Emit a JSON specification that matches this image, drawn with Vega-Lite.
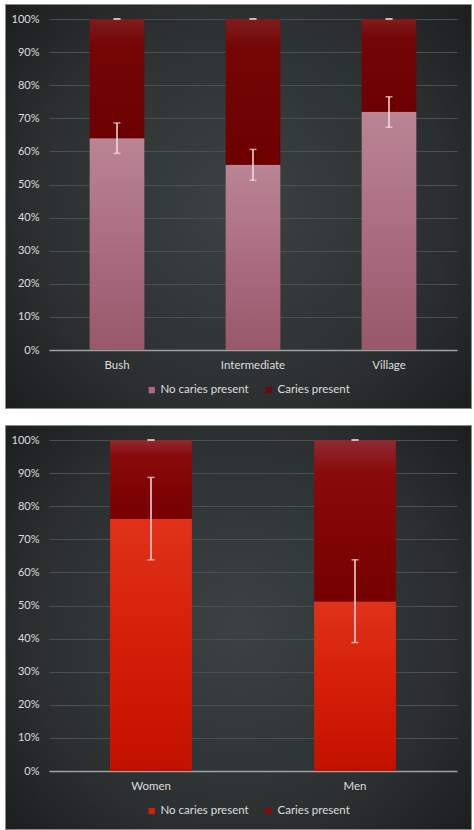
{
  "$schema": "https://vega.github.io/schema/vega-lite/v6.json",
  "background": "#ffffff",
  "padding": {"left": 4, "top": 3, "right": 4, "bottom": 4},
  "spacing": 15,
  "datasets": {
    "location": [
      {"cat": "Bush", "series": "No caries present", "pct": 64, "lo": 59.4, "hi": 68.6},
      {"cat": "Bush", "series": "Caries present", "pct": 36, "lo": 100, "hi": 100},
      {"cat": "Intermediate", "series": "No caries present", "pct": 56, "lo": 51.3, "hi": 60.6},
      {"cat": "Intermediate", "series": "Caries present", "pct": 44, "lo": 100, "hi": 100},
      {"cat": "Village", "series": "No caries present", "pct": 72, "lo": 67.3, "hi": 76.5},
      {"cat": "Village", "series": "Caries present", "pct": 28, "lo": 100, "hi": 100}
    ],
    "sex": [
      {"cat": "Women", "series": "No caries present", "pct": 76.2, "lo": 63.8, "hi": 88.7},
      {"cat": "Women", "series": "Caries present", "pct": 23.8, "lo": 100, "hi": 100},
      {"cat": "Men", "series": "No caries present", "pct": 51.2, "lo": 38.8, "hi": 63.8},
      {"cat": "Men", "series": "Caries present", "pct": 48.8, "lo": 100, "hi": 100}
    ]
  },
  "vconcat": [
    {
      "width": 466,
      "height": 404,
      "data": {"name": "location"},
      "transform": [
        {"stack": "pct", "groupby": ["cat"], "sort": [{"field": "series", "order": "descending"}], "as": ["y0", "y1"]}
      ],
      "encoding": {
        "x": {
          "field": "cat", "type": "nominal", "sort": ["Bush", "Intermediate", "Village"],
          "scale": {"range": [44, 452], "paddingInner": 0.6, "paddingOuter": 0.3},
          "axis": {"orient": "bottom", "offset": -58, "title": null}
        }
      },
      "layer": [
        {
          "mark": {"type": "bar"},
          "encoding": {
            "y": {
              "field": "y0", "type": "quantitative",
              "scale": {"domain": [0, 100], "range": [346, 15], "nice": false},
              "axis": {"values": [0, 10, 20, 30, 40, 50, 60, 70, 80, 90, 100], "labelExpr": "datum.value + '%'", "offset": -44, "title": null}
            },
            "y2": {"field": "y1"},
            "color": {
              "field": "series", "type": "nominal",
              "scale": {"domain": ["No caries present", "Caries present"], "range": ["#a96a80", "#740606"]},
              "legend": {"orient": "none", "legendX": 141, "legendY": 380, "direction": "horizontal", "title": null}
            }
          }
        },
        {
          "transform": [{"filter": "datum.series === 'No caries present'"}],
          "mark": {"type": "bar", "fill": {"gradient": "linear", "x1": 0, "y1": 0, "x2": 0, "y2": 1, "stops": [{"offset": 0, "color": "#ba8595"}, {"offset": 0.55, "color": "#a96a80"}, {"offset": 1, "color": "#98586a"}]}},
          "encoding": {"y": {"field": "y0", "type": "quantitative"}, "y2": {"field": "y1"}}
        },
        {
          "transform": [{"filter": "datum.series === 'Caries present'"}],
          "mark": {"type": "bar", "fill": {"gradient": "linear", "x1": 0, "y1": 0, "x2": 0, "y2": 1, "stops": [{"offset": 0, "color": "#801c1e"}, {"offset": 0.2, "color": "#740606"}, {"offset": 1, "color": "#6c0000"}]}},
          "encoding": {"y": {"field": "y0", "type": "quantitative"}, "y2": {"field": "y1"}}
        },
        {
          "mark": {"type": "errorbar", "ticks": {"size": 7}, "color": "#f6dde2", "thickness": 1.5},
          "encoding": {"y": {"field": "lo", "type": "quantitative"}, "y2": {"field": "hi"}}
        }
      ]
    },
    {
      "width": 466,
      "height": 404,
      "data": {"name": "sex"},
      "transform": [
        {"stack": "pct", "groupby": ["cat"], "sort": [{"field": "series", "order": "descending"}], "as": ["y0", "y1"]}
      ],
      "encoding": {
        "x": {
          "field": "cat", "type": "nominal", "sort": ["Women", "Men"],
          "scale": {"range": [44, 452], "paddingInner": 0.6, "paddingOuter": 0.3},
          "axis": {"orient": "bottom", "offset": -58, "title": null}
        }
      },
      "layer": [
        {
          "mark": {"type": "bar"},
          "encoding": {
            "y": {
              "field": "y0", "type": "quantitative",
              "scale": {"domain": [0, 100], "range": [346, 15], "nice": false},
              "axis": {"values": [0, 10, 20, 30, 40, 50, 60, 70, 80, 90, 100], "labelExpr": "datum.value + '%'", "offset": -44, "title": null}
            },
            "y2": {"field": "y1"},
            "color": {
              "field": "series", "type": "nominal",
              "scale": {"domain": ["No caries present", "Caries present"], "range": ["#d41e08", "#890a0a"]},
              "legend": {"orient": "none", "legendX": 141, "legendY": 380, "direction": "horizontal", "title": null}
            }
          }
        },
        {
          "transform": [{"filter": "datum.series === 'No caries present'"}],
          "mark": {"type": "bar", "fill": {"gradient": "linear", "x1": 0, "y1": 0, "x2": 0, "y2": 1, "stops": [{"offset": 0, "color": "#e0321a"}, {"offset": 0.5, "color": "#d41e08"}, {"offset": 1, "color": "#c21000"}]}},
          "encoding": {"y": {"field": "y0", "type": "quantitative"}, "y2": {"field": "y1"}}
        },
        {
          "transform": [{"filter": "datum.series === 'Caries present'"}],
          "mark": {"type": "bar", "fill": {"gradient": "linear", "x1": 0, "y1": 0, "x2": 0, "y2": 1, "stops": [{"offset": 0, "color": "#8e2a32"}, {"offset": 0.2, "color": "#890a0a"}, {"offset": 1, "color": "#760000"}]}},
          "encoding": {"y": {"field": "y0", "type": "quantitative"}, "y2": {"field": "y1"}}
        },
        {
          "mark": {"type": "errorbar", "ticks": {"size": 7}, "color": "#f6dde2", "thickness": 1.5},
          "encoding": {"y": {"field": "lo", "type": "quantitative"}, "y2": {"field": "hi"}}
        }
      ]
    }
  ],
  "resolve": {"scale": {"color": "independent"}},
  "config": {
    "font": "Lato",
    "view": {
      "fill": {"gradient": "radial", "x1": 0.5, "y1": 0.5, "r1": 0, "x2": 0.5, "y2": 0.5, "r2": 0.75, "stops": [{"offset": 0, "color": "#3c4243"}, {"offset": 0.6, "color": "#2a2e2f"}, {"offset": 1, "color": "#151718"}]},
      "stroke": "#8a8a8a",
      "strokeWidth": 1
    },
    "axis": {
      "labelColor": "#dedede",
      "labelFont": "Lato",
      "labelFontSize": 11,
      "ticks": false,
      "gridColor": "#4a5051",
      "gridWidth": 1,
      "domainColor": "#a0a0a0",
      "domainWidth": 1.5
    },
    "axisX": {"labelAngle": 0, "labelPadding": 9, "grid": false, "labelFontSize": 11.5},
    "axisY": {"domain": false, "labelPadding": 10, "grid": true},
    "legend": {
      "labelColor": "#dedede",
      "labelFont": "Lato",
      "labelFontSize": 11.5,
      "symbolType": "square",
      "symbolSize": 40,
      "symbolStrokeWidth": 0,
      "columnPadding": 14,
      "labelOffset": 3
    }
  }
}
